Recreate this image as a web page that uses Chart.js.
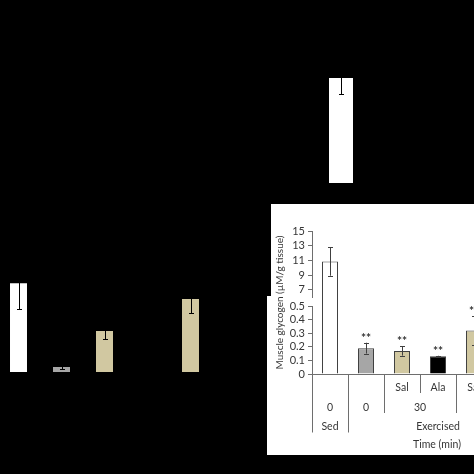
<!DOCTYPE html>
<html><head><meta charset="utf-8">
<script src="https://cdn.jsdelivr.net/npm/chart.js@4.4.1/dist/chart.umd.min.js"></script>
<style>
html,body{margin:0;padding:0;width:474px;height:474px;overflow:hidden;background:#000;}
canvas,div.panel{position:absolute;}
</style></head><body>
<div class="panel" style="left:271px;top:204px;width:203px;height:251px;background:#fff"></div>
<div class="panel" style="left:267px;top:296px;width:4px;height:159px;background:#fff"></div>
<canvas id="panelA" width="258" height="372" style="left:-3px;top:0;width:258px;height:372px"></canvas>
<canvas id="panelB" width="48" height="183" style="left:317px;top:0;width:48px;height:183px"></canvas>
<canvas id="upper" width="261" height="251" style="left:267px;top:204px;width:261px;height:251px"></canvas>
<canvas id="lower" width="261" height="251" style="left:267px;top:204px;width:261px;height:251px"></canvas>
<script>
// ---- data ----
const categories = ['Sed 0', 'Exercised 0', 'Sal 30', 'Ala 30', 'Sal', 'Ala'];
const treatmentLabels = ['', '', 'Sal', 'Ala', 'Sal', ''];
const timeLabels = ['0', '0', '30', '30', '', ''];
const groupLabels = ['Sed', 'Exercised', 'Exercised', 'Exercised', 'Exercised', 'Exercised'];
const glycogen = [10.85, 0.19, 0.17, 0.13, 0.32, null];
const glycogenErr = [1.95, 0.04, 0.035, 0.004, 0.11, null];
const significance = ['', '**', '**', '**', '**', ''];
const upperTicks = [7, 9, 11, 13, 15];
const lowerTicks = [0, 0.1, 0.2, 0.3, 0.4, 0.5];
const yTitle = 'Muscle glycogen (\u00b5M/g tissue)';
const xTitle = 'Time (min)';

const panelACategories = ['1', '2', '3', '4', '5', '6'];
const panelAValues = [22.2, 1.25, 10.25, null, 18.25, null];
const panelAErr = [6.5, 0.5, 2, null, 3.5, null];
const panelBCategories = ['1'];
const panelBValues = [26.25];
const panelBErr = [4];

// ---- styles ----
const tan = '#d1c8a1';
const barColors = ['#ffffff', '#a6a6a6', tan, '#000000', tan, '#000000'];
const axisColor = '#6e6e6e';
const textColor = '#363636';
const edgeColor = '#404040';
const FONT = 'Lato';

function errorBarsPlugin(values, errors, color, stars) {
  return {
    id: 'errorBars',
    afterDatasetsDraw(chart) {
      const {ctx, chartArea: a} = chart;
      const ys = chart.scales.y;
      const meta = chart.getDatasetMeta(0);
      ctx.save();
      ctx.beginPath();
      ctx.rect(a.left, a.top, a.right - a.left, a.bottom - a.top);
      ctx.clip();
      ctx.strokeStyle = color;
      ctx.lineWidth = 1;
      const tops = [];
      meta.data.forEach((bar, i) => {
        const v = values[i], e = errors[i];
        if (v == null || e == null) return;
        const x = Math.round(bar.x) + 0.5;
        const t = ys.getPixelForValue(v + e), b = ys.getPixelForValue(v - e);
        tops[i] = t;
        ctx.beginPath();
        ctx.moveTo(x, t); ctx.lineTo(x, b);
        ctx.moveTo(x - 2.5, Math.round(t) + 0.5); ctx.lineTo(x + 2.5, Math.round(t) + 0.5);
        ctx.moveTo(x - 2.5, Math.round(b) + 0.5); ctx.lineTo(x + 2.5, Math.round(b) + 0.5);
        ctx.stroke();
      });
      ctx.restore();
      if (stars) {
        ctx.save();
        ctx.fillStyle = '#303030';
        ctx.font = 'bold 12px ' + FONT;
        ctx.textAlign = 'center';
        ctx.textBaseline = 'alphabetic';
        meta.data.forEach((bar, i) => {
          if (!stars[i] || tops[i] == null) return;
          ctx.fillText(stars[i], bar.x, tops[i] - 1);
        });
        ctx.restore();
      }
    }
  };
}

const multiLevelAxis = {
  id: 'multiLevelAxis',
  afterDraw(chart) {
    const {ctx, chartArea: a} = chart;
    const xs = chart.scales.x;
    const n = categories.length;
    const step = xs.getPixelForValue(1) - xs.getPixelForValue(0);
    const edge = i => xs.getPixelForValue(0) - step / 2 + i * step;
    const rowText = [14, 33.5, 53];
    const rowLine = [19, 39, 58.5];
    const depth = i => (i === 0 || i === n) ? 3 :
      groupLabels[i] !== groupLabels[i - 1] ? 3 :
      timeLabels[i] !== timeLabels[i - 1] ? 2 : 1;
    ctx.save();
    ctx.strokeStyle = axisColor;
    ctx.lineWidth = 1;
    ctx.beginPath();
    const by = Math.round(a.bottom) + 0.5;
    ctx.moveTo(a.left, by); ctx.lineTo(edge(n), by);
    for (let i = 0; i <= n; i++) {
      const px = Math.round(edge(i)) + 0.5;
      ctx.moveTo(px, a.bottom); ctx.lineTo(px, a.bottom + rowLine[depth(i) - 1]);
    }
    ctx.stroke();
    ctx.fillStyle = textColor;
    ctx.font = '10.5px ' + FONT;
    ctx.textAlign = 'center';
    ctx.textBaseline = 'middle';
    // row 1: treatment
    treatmentLabels.forEach((t, i) => {
      if (t) ctx.fillText(t, xs.getPixelForValue(i), a.bottom + rowText[0]);
    });
    // row 2: time groups
    let s = 0;
    for (let i = 1; i <= n; i++) {
      if (i === n || timeLabels[i] !== timeLabels[s] || groupLabels[i] !== groupLabels[s]) {
        if (timeLabels[s]) ctx.fillText(timeLabels[s], (edge(s) + edge(i)) / 2, a.bottom + rowText[1]);
        s = i;
      }
    }
    // row 3: groups
    s = 0;
    let lastCenter = 0;
    for (let i = 1; i <= n; i++) {
      if (i === n || groupLabels[i] !== groupLabels[s]) {
        lastCenter = (edge(s) + edge(i)) / 2;
        ctx.fillText(groupLabels[s], lastCenter, a.bottom + rowText[2]);
        s = i;
      }
    }
    // axis title
    ctx.fillText(xTitle, lastCenter - 1, a.bottom + 71);
    // y title
    ctx.font = '10px ' + FONT;
    ctx.translate(12.5, 98.5);
    ctx.rotate(-Math.PI / 2);
    ctx.fillText(yTitle, 0, 0);
    ctx.restore();
  }
};

const common = {
  responsive: false,
  animation: false,
  events: [],
  plugins: {legend: {display: false}, tooltip: {enabled: false}}
};

function yAxis(min, max, ticks, width) {
  return {
    min, max,
    afterBuildTicks: s => { s.ticks = ticks.map(v => ({value: v})); },
    afterFit: s => { s.width = width; },
    grid: {drawOnChartArea: false, tickLength: 4, color: axisColor},
    border: {color: axisColor},
    ticks: {autoSkip: false, padding: 3, color: textColor, font: {family: FONT, size: 11},
      callback: v => v === 0 ? '0' : (Number.isInteger(v) ? String(v) : v.toFixed(1))}
  };
}

// black-background panel bars
new Chart(document.getElementById('panelA'), {
  type: 'bar',
  data: {labels: panelACategories, datasets: [{data: panelAValues, backgroundColor: barColors,
    borderWidth: 0, barPercentage: 0.395, categoryPercentage: 1}]},
  options: Object.assign({}, common, {
    scales: {x: {display: false}, y: {display: false, min: 0, max: 93}}
  }),
  plugins: [errorBarsPlugin(panelAValues, panelAErr, '#000000')]
});

new Chart(document.getElementById('panelB'), {
  type: 'bar',
  data: {labels: panelBCategories, datasets: [{data: panelBValues, backgroundColor: '#ffffff',
    borderWidth: 0, barPercentage: 0.5, categoryPercentage: 1}]},
  options: Object.assign({}, common, {
    scales: {x: {display: false}, y: {display: false, min: 0, max: 45.75}}
  }),
  plugins: [errorBarsPlugin(panelBValues, panelBErr, '#000000')]
});

// inset: upper part of broken axis
new Chart(document.getElementById('upper'), {
  type: 'bar',
  data: {labels: categories, datasets: [{data: glycogen, backgroundColor: barColors,
    borderColor: edgeColor, borderWidth: 1, barPercentage: 0.445, categoryPercentage: 1, clip: 0}]},
  options: Object.assign({}, common, {
    layout: {padding: {top: 27, bottom: 158, left: 0, right: 0}},
    scales: {x: {display: false}, y: yAxis(6, 15, upperTicks, 45)}
  }),
  plugins: [errorBarsPlugin(glycogen, glycogenErr, edgeColor)]
});

// inset: lower part of broken axis
new Chart(document.getElementById('lower'), {
  type: 'bar',
  data: {labels: categories, datasets: [{data: glycogen, backgroundColor: barColors,
    borderColor: edgeColor, borderWidth: 1, barPercentage: 0.445, categoryPercentage: 1,
    clip: {left: 0, right: 0, top: 10, bottom: 0}}]},
  options: Object.assign({}, common, {
    layout: {padding: {top: 102, bottom: 81, left: 0, right: 0}},
    scales: {x: {display: false}, y: yAxis(0, 0.5, lowerTicks, 45)}
  }),
  plugins: [errorBarsPlugin(glycogen, glycogenErr, edgeColor, significance), multiLevelAxis]
});
</script>
</body></html>
